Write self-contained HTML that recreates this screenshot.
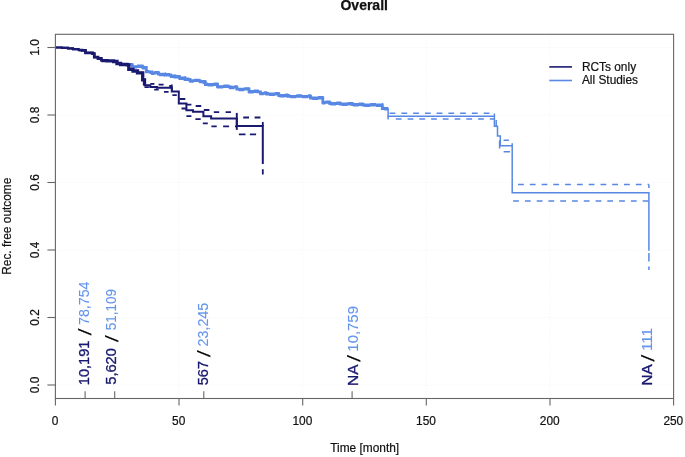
<!DOCTYPE html>
<html><head><meta charset="utf-8"><title>Overall</title>
<style>html,body{margin:0;padding:0;background:#fff;overflow:hidden}body{width:685px;height:457px;position:relative}</style></head>
<body>
<svg width="685" height="457" viewBox="0 0 685 457" style="position:absolute;left:0;top:0">
<rect width="685" height="457" fill="#fff"/>
<g stroke="#eeeeee" stroke-width="0.7" stroke-dasharray="1 2" fill="none">
<path d="M179.0 34.3V398.5"/>
<path d="M302.7 34.3V398.5"/>
<path d="M426.3 34.3V398.5"/>
<path d="M550.0 34.3V398.5"/>
<path d="M55.4 385.0H673.6"/>
<path d="M55.4 317.5H673.6"/>
<path d="M55.4 250.0H673.6"/>
<path d="M55.4 182.5H673.6"/>
<path d="M55.4 115.0H673.6"/>
<path d="M55.4 47.5H673.6"/>
</g>
<g fill="none" stroke="#5888e3" stroke-linejoin="miter">
<path d="M127.0 64.9 H132.3 V66.6 H142.8 V67.5 H146.3 V71.9 H152.0 V73.0 H158.5 V74.2 H165.0 V75.0 H170.8 V75.9 H175.0 V77.0 H179.6 V78.0 H185.0 V79.5 H190.0 V80.7 H200.0 V81.3 H203.5 V81.9 H205.3 V84.5 H210.5 V84.5 H217.5 V86.6 H229.8 V87.2 H236.8 V89.2 H242.0 V89.2 H249.0 V91.5 H257.8 V91.9 H260.4 V93.3 H266.6 V94.0 H278.8 V95.5 H287.6 V96.3 H301.6 V96.3 H307.0 V96.3 H310.5 V98.0 H321.0 V98.0 H322.8 V102.4 H329.8 V103.5 H340.3 V104.0 H352.6 V104.5 H363.0 V105.0 H375.3 V105.0 H380.6 V105.0 H382.3 V108.5 H387.6 V108.5 H388.1 V116.3 H494.4 V116.3 H494.4 V126.3 H497.5 V126.3 H497.5 V136.0 H500.3 V136.0 H500.3 V145.8 H512.2 V145.8 H512.2 V192.8 H648.9 V192.8 H648.9 V250.7" stroke-width="1.5"/>
<path d="M127.0 64.9 H132.3 V66.6 H142.8 V67.5 H146.3 V71.9 H152.0 V73.0 H158.5 V74.2 H165.0 V75.0 H170.8 V75.9 H175.0 V77.0 H179.6 V78.0 H185.0 V79.5 H190.0 V80.7 H200.0 V81.3 H203.5 V81.9 H205.3 V84.5 H210.5 V84.5 H217.5 V86.6 H229.8 V87.2 H236.8 V89.2 H242.0 V89.2 H249.0 V91.5 H257.8 V91.9 H260.4 V93.3 H266.6 V94.0 H278.8 V95.5 H287.6 V96.3 H301.6 V96.3 H307.0 V96.3 H310.5 V98.0 H321.0 V98.0 H322.8 V102.4 H329.8 V103.5 H340.3 V104.0 H352.6 V104.5 H363.0 V105.0 H375.3 V105.0 H380.6 V105.0 H382.3 V108.5 H387.6 V108.5 H388.1 V108.5" stroke-width="2.8"/>
<path d="M127.0 64.9 H132.3 V66.6 H142.8 V67.5 H146.3 V71.9 H152.0 V73.0 H158.5 V74.2 H165.0 V75.0 H170.8 V75.9 H175.0 V77.0 H179.6 V78.0 H185.0 V79.5 H190.0 V80.7 H200.0 V81.3 H203.5 V81.9 H205.3 V84.5 H210.5 V84.5 H217.5 V86.6 H229.8 V87.2 H236.8 V89.2 H242.0 V89.2 H249.0 V91.5 H257.8 V91.9 H260.4 V93.3 H266.6 V94.0 H278.8 V95.5 H287.6 V96.3 H301.6 V96.3 H307.0 V96.3 H310.5 V98.0 H321.0 V98.0 H322.8 V102.4 H329.8 V103.5 H340.3 V104.0 H352.6 V104.5 H363.0 V105.0 H375.3 V105.0 H380.6 V105.0 H382.3 V108.5 H387.6 V108.5 H388.1 V108.5" stroke-width="1.5" stroke-dasharray="5.9 5.9" transform="translate(0 -1.25)"/>
<path d="M127.0 64.9 H132.3 V66.6 H142.8 V67.5 H146.3 V71.9 H152.0 V73.0 H158.5 V74.2 H165.0 V75.0 H170.8 V75.9 H175.0 V77.0 H179.6 V78.0 H185.0 V79.5 H190.0 V80.7 H200.0 V81.3 H203.5 V81.9 H205.3 V84.5 H210.5 V84.5 H217.5 V86.6 H229.8 V87.2 H236.8 V89.2 H242.0 V89.2 H249.0 V91.5 H257.8 V91.9 H260.4 V93.3 H266.6 V94.0 H278.8 V95.5 H287.6 V96.3 H301.6 V96.3 H307.0 V96.3 H310.5 V98.0 H321.0 V98.0 H322.8 V102.4 H329.8 V103.5 H340.3 V104.0 H352.6 V104.5 H363.0 V105.0 H375.3 V105.0 H380.6 V105.0 H382.3 V108.5 H387.6 V108.5 H388.1 V108.5" stroke-width="1.5" stroke-dasharray="5.9 5.9" stroke-dashoffset="5.9" transform="translate(0 1.25)"/>
<path d="M389.6 113.2H395.4M401.4 113.2H407.2M413.1 113.2H418.9M424.9 113.2H430.7M436.6 113.2H442.4M448.4 113.2H454.2M460.1 113.2H465.9M471.9 113.2H477.7M483.6 113.2H489.4M395.8 118.9H401.6M407.6 118.9H413.4M419.3 118.9H425.1M431.1 118.9H436.9M442.8 118.9H448.6M454.6 118.9H460.4M466.3 118.9H472.1M478.1 118.9H483.9M489.8 118.9H494.4M388.1 116V119.6M494.4 113.4V116 M496.2 120V126.3M499.6 140.5V148.5 M503.6 140.3H508.9 M503.6 151.7H510 M512.2 143.2V146M518.0 184.5H523.8M529.8 184.5H535.6M541.6 184.5H547.4M553.3 184.5H559.1M565.1 184.5H570.9M576.9 184.5H582.7M588.7 184.5H594.5M600.5 184.5H606.3M612.2 184.5H618.0M624.0 184.5H629.8M635.8 184.5H641.6M647.6 184.5H648.9M513.1 201.0H518.9M524.9 201.0H530.7M536.7 201.0H542.5M548.4 201.0H554.2M560.2 201.0H566.0M572.0 201.0H577.8M583.8 201.0H589.6M595.6 201.0H601.4M607.3 201.0H613.1M619.1 201.0H624.9M630.9 201.0H636.7M642.7 201.0H648.5M648.9 184.5V188 M648.9 253.1V261.6 M648.9 266.4V270" stroke-width="1.5"/>
</g>
<g fill="none" stroke="#191970">
<path d="M55.4 47.5 H62.0 V47.8 H68.0 V48.4 H73.0 V49.2 H78.5 V50.1 H82.0 V50.4 H85.5 V52.8 H92.5 V53.6 H94.3 V57.2 H98.0 V58.5 H101.3 V60.7 H107.0 V60.9 H113.6 V61.5 H117.0 V63.5 H120.6 V64.5 H127.0 V64.9 H128.8 V69.3 H133.0 V71.0 H137.5 V72.8 H142.7 V79.9 H144.5 V85.3 H150.3 V87.0 H157.0 V87.7 H171.8 V91.5 H178.8 V103.5 H186.4 V110.3 H193.0 V111.8 H203.4 V116.2 H211.1 V118.4 H236.8 V126.1 H262.8 V164.0" stroke-width="2"/>
<path d="M55.4 47.5 H62.0 V47.8 H68.0 V48.4 H73.0 V49.2 H78.5 V50.1" stroke-width="2.2"/>
<path d="M78.5 50.1 H82.0 V50.4 H85.5 V52.8 H92.5 V53.6 H94.3 V57.2 H98.0 V58.5 H101.3 V60.7" stroke-width="2.8"/>
<path d="M101.3 60.7 H107.0 V60.9 H113.6 V61.5 H117.0 V63.5 H120.6 V64.5 H127.0 V64.9 H128.8 V69.3 H133.0 V71.0 H137.5 V72.8 H142.7 V79.9 H144.5 V85.3" stroke-width="3.3"/>
<path d="M150.3 83.8H154.4M158.6 84.7H163.6M169.2 86.0H172.5M179.5 99.0H185.3M186.4 104.7H191.4M195.7 106.0H201.2M203.9 110.0H209.4M213.8 112.2H219.2M225.6 112.2H231.0M243.2 117.5H249.0M254.6 117.5H260.4M144.5 87.2H148.9M154.2 89.6H158.7M164.0 91.8H168.6M172.4 95.2H176.8M181.5 108.5H186.4M186.4 116.2H191.4M195.4 119.2H200.7M202.8 123.3H207.8M211.4 126.3H216.7M223.1 126.3H229.1M235.0 126.3H236.8M238.9 134.4H245.5M249.9 134.4H256.1M262.8 121.9V126 M262.8 169.2V174.4 M171.8 84.5V90" stroke-width="1.8"/>
<path d="M236.8 112.9V129.9" stroke-width="1.9"/>
</g>
<g fill="none" stroke="#666" stroke-width="1.1">
<rect x="55.4" y="34.3" width="618.2" height="364.2"/>
<path d="M55.4 398.5V405.5"/>
<path d="M179.0 398.5V405.5"/>
<path d="M302.7 398.5V405.5"/>
<path d="M426.3 398.5V405.5"/>
<path d="M550.0 398.5V405.5"/>
<path d="M673.6 398.5V405.5"/>
<path d="M85.1 398.5V391.2"/>
<path d="M114.7 398.5V391.2"/>
<path d="M203.8 398.5V391.2"/>
<path d="M352.1 398.5V391.2"/>
<path d="M55.4 385.0H47.4"/>
<path d="M55.4 317.5H47.4"/>
<path d="M55.4 250.0H47.4"/>
<path d="M55.4 182.5H47.4"/>
<path d="M55.4 115.0H47.4"/>
<path d="M55.4 47.5H47.4"/>
</g>
<path d="M549.3 66.9H572" stroke="#191970" stroke-width="1.6"/>
<path d="M549.3 80.5H572" stroke="#5888e3" stroke-width="1.6"/>
<g font-family="Liberation Sans, Arial, sans-serif" fill="#111" stroke="#111" stroke-width="0.2">
<text x="581.9" y="70.8" font-size="11.9">RCTs only</text>
<text x="581.9" y="84.3" font-size="11.9">All Studies</text>
<text x="364.2" y="10.4" font-size="14" font-weight="bold" stroke="#111" stroke-width="0.25" text-anchor="middle">Overall</text>
<text x="364.7" y="452.1" font-size="11.9" text-anchor="middle">Time [month]</text>
<text x="55.1" y="424.5" font-size="11.9" text-anchor="middle">0</text>
<text x="178.7" y="424.5" font-size="11.9" text-anchor="middle">50</text>
<text x="302.4" y="424.5" font-size="11.9" text-anchor="middle">100</text>
<text x="426.0" y="424.5" font-size="11.9" text-anchor="middle">150</text>
<text x="549.7" y="424.5" font-size="11.9" text-anchor="middle">200</text>
<text x="673.3" y="424.5" font-size="11.9" text-anchor="middle">250</text>
<text transform="translate(38.7 385.0) rotate(-90)" font-size="11.9" text-anchor="middle">0.0</text>
<text transform="translate(38.7 317.5) rotate(-90)" font-size="11.9" text-anchor="middle">0.2</text>
<text transform="translate(38.7 250.0) rotate(-90)" font-size="11.9" text-anchor="middle">0.4</text>
<text transform="translate(38.7 182.5) rotate(-90)" font-size="11.9" text-anchor="middle">0.6</text>
<text transform="translate(38.7 115.0) rotate(-90)" font-size="11.9" text-anchor="middle">0.8</text>
<text transform="translate(38.7 47.5) rotate(-90)" font-size="11.9" text-anchor="middle">1.0</text>
<text transform="translate(11.0 226.2) rotate(-90)" font-size="11.9" text-anchor="middle">Rec. free outcome</text>
</g>
<g font-family="Liberation Sans, Arial, sans-serif">
<text transform="translate(89.30 385.14) rotate(-90)" font-size="14.3" fill="#191970" font-weight="normal" textLength="44.49" lengthAdjust="spacingAndGlyphs" stroke="#191970" stroke-width="0.33">10,191</text>
<text transform="translate(91.30 335.20) rotate(-90) skewX(-7.56)" font-size="17.8" fill="#000" stroke="#000" stroke-width="0.25">/</text>
<text transform="translate(89.30 324.94) rotate(-90)" font-size="14.3" fill="#6495ed" font-weight="normal" textLength="43.40" lengthAdjust="spacingAndGlyphs" stroke="#6495ed" stroke-width="0.1">78,754</text>
<text transform="translate(116.00 384.74) rotate(-90)" font-size="14.3" fill="#191970" font-weight="normal" textLength="36.58" lengthAdjust="spacingAndGlyphs" stroke="#191970" stroke-width="0.33">5,620</text>
<text transform="translate(118.00 341.90) rotate(-90) skewX(-7.56)" font-size="17.8" fill="#000" stroke="#000" stroke-width="0.25">/</text>
<text transform="translate(116.00 330.19) rotate(-90)" font-size="14.3" fill="#6495ed" font-weight="normal" textLength="41.08" lengthAdjust="spacingAndGlyphs" stroke="#6495ed" stroke-width="0.1">51,109</text>
<text transform="translate(208.00 385.23) rotate(-90)" font-size="14.3" fill="#191970" font-weight="normal" textLength="24.18" lengthAdjust="spacingAndGlyphs" stroke="#191970" stroke-width="0.33">567</text>
<text transform="translate(210.00 357.00) rotate(-90) skewX(-7.56)" font-size="17.8" fill="#000" stroke="#000" stroke-width="0.25">/</text>
<text transform="translate(208.00 346.55) rotate(-90)" font-size="14.3" fill="#6495ed" font-weight="normal" textLength="43.86" lengthAdjust="spacingAndGlyphs" stroke="#6495ed" stroke-width="0.1">23,245</text>
<text transform="translate(358.00 385.92) rotate(-90)" font-size="14.3" fill="#191970" font-weight="normal" textLength="21.56" lengthAdjust="spacingAndGlyphs" stroke="#191970" stroke-width="0.33">NA</text>
<text transform="translate(360.00 361.70) rotate(-90) skewX(-7.56)" font-size="17.8" fill="#000" stroke="#000" stroke-width="0.25">/</text>
<text transform="translate(358.00 351.67) rotate(-90)" font-size="14.3" fill="#6495ed" font-weight="normal" textLength="45.64" lengthAdjust="spacingAndGlyphs" stroke="#6495ed" stroke-width="0.1">10,759</text>
<text transform="translate(651.80 385.61) rotate(-90)" font-size="14.3" fill="#191970" font-weight="normal" textLength="21.34" lengthAdjust="spacingAndGlyphs" stroke="#191970" stroke-width="0.33">NA</text>
<text transform="translate(653.80 361.60) rotate(-90) skewX(-7.56)" font-size="17.8" fill="#000" stroke="#000" stroke-width="0.25">/</text>
<text transform="translate(651.80 351.09) rotate(-90)" font-size="14.3" fill="#6495ed" font-weight="normal" textLength="22.96" lengthAdjust="spacingAndGlyphs" stroke="#6495ed" stroke-width="0.1">111</text>
</g>
</svg>
</body></html>
